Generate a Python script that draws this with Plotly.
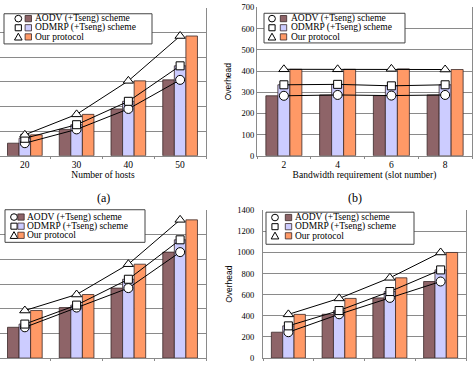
import plotly.graph_objects as go

# ---------------- data ----------------
hosts = ["20", "30", "40", "50"]
slots = ["2", "4", "6", "8"]
series_names = ["AODV (+Tseng) scheme", "ODMRP (+Tseng) scheme", "Our protocol"]

a_aodv = [51, 107, 190, 308]
a_odmrp = [71, 126, 221, 365]
a_ours = [85, 168, 304, 486]

b_aodv = [283, 287, 284, 287]
b_odmrp = [335, 337, 330, 335]
b_ours = [408, 408, 410, 407]

c_aodv = [125, 205, 284, 430]
c_odmrp = [138, 215, 320, 480]
c_ours = [193, 258, 381, 561]

d_aodv = [245, 415, 570, 725]
d_odmrp = [305, 450, 630, 835]
d_ours = [414, 565, 760, 1000]

# ---------------- style ----------------
W, H = 474, 366
colors = ["#8E6468", "#CCCCFF", "#FF9966"]
symbols = ["circle", "square", "triangle-up"]
sizes = [9, 8, 9]
GRID = "#8a8a8a"
SERIF = "Liberation Serif, Times New Roman, serif"
SANS = "Liberation Sans, Arial, sans-serif"


def X(px):
    return px / W


def Y(py):
    return 1 - py / H


fig = go.Figure()

panels = [
    dict(cats=hosts, vals=[a_aodv, a_odmrp, a_ours], xa="x", ya="y"),
    dict(cats=slots, vals=[b_aodv, b_odmrp, b_ours], xa="x2", ya="y2"),
    dict(cats=hosts, vals=[c_aodv, c_odmrp, c_ours], xa="x3", ya="y3"),
    dict(cats=hosts, vals=[d_aodv, d_odmrp, d_ours], xa="x4", ya="y4"),
]

for p in panels:
    for name, vals, col in zip(series_names, p["vals"], colors):
        fig.add_trace(go.Bar(
            x=p["cats"], y=vals, name=name, showlegend=False,
            marker=dict(color=col, line=dict(color="#3a2828", width=0.8)),
            xaxis=p["xa"], yaxis=p["ya"]))
    for name, vals, sym, sz in zip(series_names, p["vals"], symbols, sizes):
        fig.add_trace(go.Scatter(
            x=p["cats"], y=vals, name=name, showlegend=False,
            mode="lines+markers",
            line=dict(color="black", width=1),
            marker=dict(symbol=sym, size=sz, color="white",
                        line=dict(color="black", width=1)),
            xaxis=p["xa"], yaxis=p["ya"]))

xcommon = dict(type="category", showgrid=False, showline=True, linecolor=GRID,
               linewidth=1, ticks="outside", tickson="boundaries", ticklen=2,
               tickcolor=GRID, tickfont=dict(family=SERIF, size=9.5, color="black"),
               zeroline=False)
ycommon = dict(showgrid=True, gridcolor=GRID, gridwidth=1, showline=True,
               linecolor=GRID, linewidth=1, zeroline=False, ticks="",
               tickfont=dict(family=SERIF, size=8.5, color="black"))

fig.update_layout(
    width=W, height=H, margin=dict(l=0, r=0, t=0, b=0),
    paper_bgcolor="white", plot_bgcolor="white",
    barmode="group", bargap=0.33, bargroupgap=0,
    showlegend=False,
    xaxis=dict(xcommon, domain=[X(0), X(206)], range=[-0.48, 3.5], anchor="y",
               title=dict(text="Number of hosts", standoff=2,
                          font=dict(family=SERIF, size=9.5, color="black"))),
    yaxis=dict(ycommon, domain=[Y(155), Y(3)], range=[0, 600], dtick=100,
               side="right", mirror=False, showticklabels=False, anchor="x"),
    xaxis2=dict(xcommon, domain=[X(257), X(472)], range=[-0.5, 3.5], anchor="y2",
                title=dict(text="Bandwidth requirement (slot number)", standoff=2,
                           font=dict(family=SERIF, size=9.5, color="black"))),
    yaxis2=dict(ycommon, domain=[Y(155), Y(2.5)], range=[0, 700], dtick=100,
                mirror=True, anchor="x2",
                title=dict(text="Overhead", standoff=8,
                           font=dict(family=SANS, size=8.5, color="black"))),
    xaxis3=dict(xcommon, domain=[X(0), X(206)], range=[-0.48, 3.5], anchor="y3",
                showticklabels=False),
    yaxis3=dict(ycommon, domain=[Y(363), Y(211)], range=[0, 600], dtick=100,
                side="right", mirror=False, showticklabels=False, anchor="x3"),
    xaxis4=dict(xcommon, domain=[X(263), X(466)], range=[-0.5, 3.5], anchor="y4",
                showticklabels=False),
    yaxis4=dict(ycommon, domain=[Y(363), Y(211)], range=[0, 1400], dtick=200,
                mirror=True, anchor="x4", ticklabelstandoff=6,
                title=dict(text="Overhead", standoff=3,
                           font=dict(family=SANS, size=8.5, color="black"))),
)

# ---------------- legends (drawn as boxes, as in the original figure) ----------------
shapes = []
annotations = []


def add_legend(box, rows, sym_x, sw_x, text_x):
    x0, y0, x1, y1 = box
    shapes.append(dict(type="rect", xref="paper", yref="paper",
                       x0=X(x0), x1=X(x1), y0=Y(y1), y1=Y(y0),
                       line=dict(color="#444", width=1), fillcolor="white"))
    for i, (ry, name, col) in enumerate(zip(rows, series_names, colors)):
        r = 3.4
        if i == 0:
            shapes.append(dict(type="circle", xref="paper", yref="paper",
                               x0=X(sym_x - r), x1=X(sym_x + r),
                               y0=Y(ry + r), y1=Y(ry - r),
                               line=dict(color="black", width=1), fillcolor="white"))
        elif i == 1:
            r = 3.1
            shapes.append(dict(type="rect", xref="paper", yref="paper",
                               x0=X(sym_x - r), x1=X(sym_x + r),
                               y0=Y(ry + r), y1=Y(ry - r),
                               line=dict(color="black", width=1), fillcolor="white"))
        else:
            path = "M {:.5f},{:.5f} L {:.5f},{:.5f} L {:.5f},{:.5f} Z".format(
                X(sym_x - 3.8), Y(ry + 3.2), X(sym_x + 3.8), Y(ry + 3.2),
                X(sym_x), Y(ry - 3.8))
            shapes.append(dict(type="path", xref="paper", yref="paper", path=path,
                               line=dict(color="black", width=1), fillcolor="white"))
        s = 3.2
        shapes.append(dict(type="rect", xref="paper", yref="paper",
                           x0=X(sw_x - s), x1=X(sw_x + s),
                           y0=Y(ry + s), y1=Y(ry - s),
                           line=dict(color="#3a2828", width=0.8), fillcolor=col))
        annotations.append(dict(xref="paper", yref="paper", x=X(text_x), y=Y(ry),
                                xanchor="left", yanchor="middle", showarrow=False,
                                text=name,
                                font=dict(family=SERIF, size=9.5, color="black")))


add_legend((4, 9, 152, 40), [14, 23.4, 32.8], 18.3, 28.3, 32.5)
add_legend((264, 8.5, 405, 39), [14, 23.4, 32.8], 272, 283.5, 289)
add_legend((5, 210.5, 145, 244), [218, 227.4, 236.8], 14, 21, 24.5)
add_legend((266, 213, 414, 246), [218.5, 227.9, 237.3], 275, 288.5, 293)

annotations.append(dict(xref="paper", yref="paper", x=X(103), y=Y(198),
                        xanchor="center", yanchor="middle", showarrow=False,
                        text="(a)", font=dict(family=SERIF, size=12, color="black")))
annotations.append(dict(xref="paper", yref="paper", x=X(355), y=Y(198),
                        xanchor="center", yanchor="middle", showarrow=False,
                        text="(b)", font=dict(family=SERIF, size=12, color="black")))

fig.update_layout(shapes=shapes, annotations=annotations)

fig.write_html(
    "out.html",
    config={"displayModeBar": False},
    post_script="document.body.style.margin='0px';document.body.style.overflow='hidden';",
)
